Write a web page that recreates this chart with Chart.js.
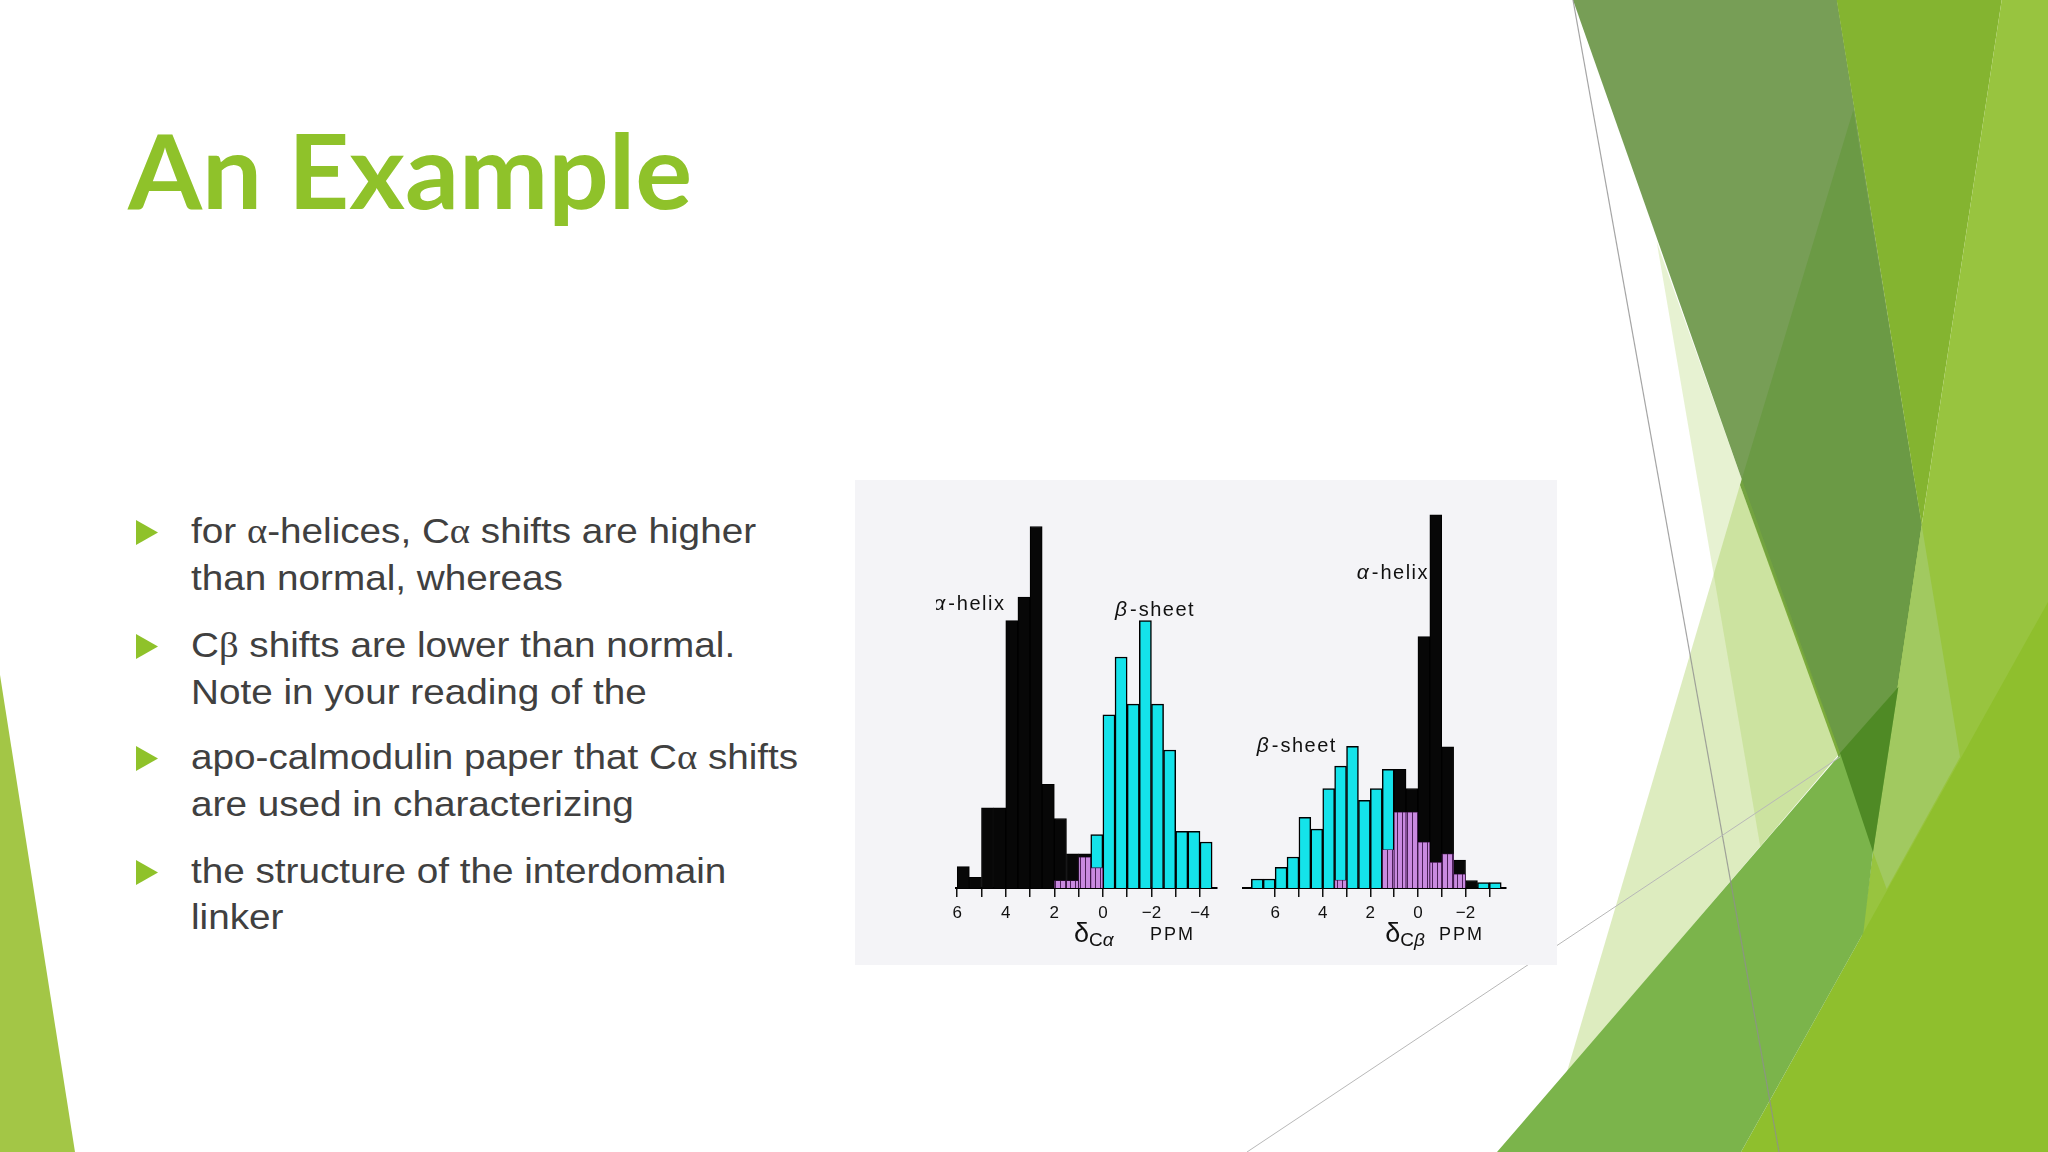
<!DOCTYPE html>
<html>
<head>
<meta charset="utf-8">
<title>An Example</title>
<script src="https://cdn.jsdelivr.net/npm/chart.js@4.4.0/dist/chart.umd.min.js"></script>
<style>
  html, body { margin: 0; padding: 0; }
  body {
    width: 2048px; height: 1152px; position: relative; overflow: hidden;
    background: #ffffff; font-family: "Liberation Sans", Arial, sans-serif;
  }
  #deco { position: absolute; left: 0; top: 0; }
  h1 {
    position: absolute; left: 128px; top: 118px; margin: 0;
    font: 700 103px/103px Lato, "Open Sans", sans-serif; color: #8fc22a;
    white-space: nowrap; transform: scaleX(1.035); transform-origin: 0 0;
  }
  .para {
    position: absolute; left: 191px; margin: 0;
    font-size: 35px; line-height: 46px; color: #404040; white-space: nowrap;
    transform: scaleX(1.105); transform-origin: 0 0;
  }
  .gr { font-family: "Liberation Serif", "DejaVu Serif", serif; }
  .tri {
    position: absolute; left: 136px; width: 22px; height: 25px; background: #8fc22a;
    clip-path: polygon(0 0, 100% 50%, 0 100%);
  }
  #figure {
    position: absolute; left: 855px; top: 480px; width: 702px; height: 485px;
    background: #f4f4f7;
  }
  .panel { position: absolute; top: 483px; height: 476px; }
  #panelA { left: 936px; width: 301px; }
  #panelB { left: 1223px; width: 303px; }
</style>
</head>
<body>

<svg id="deco" width="2048" height="1152" viewBox="0 0 2048 1152">
  <polygon points="1573,0 1837,0 1921.7,525 1873,852" fill="#779e56"/>
  <polygon points="1853.3,110 1921.7,525 1873,852 1740,485" fill="#6b9a45"/>
  <polygon points="1836.7,0 2001.7,0 1921.7,525" fill="#84b430"/>
  <polygon points="2001.7,0 2048,0 2048,1152 1833,1152 1873,852 1921.7,525" fill="#98c43f"/>
  <polygon points="1921.7,525 1960,757 1886.7,889 1873,852" fill="#a1c960"/>
  <polygon points="2048,602 2048,1152 1741,1152" fill="#8fbf2d"/>
  <polygon points="1656.7,242 1840,753 1760.3,846.7" fill="rgb(145,195,50)" fill-opacity="0.22"/>
  <polygon points="1740,485 1840,753 1566.7,1072.7" fill="rgb(145,195,50)" fill-opacity="0.31"/>
  <polygon points="1497,1152 1898.3,687 1873,852 1863.3,933 1741,1152" fill="#7bb44b"/>
  <polygon points="1840,753 1898.3,687 1873,852" fill="#4f8a25"/>
  <line x1="1573" y1="0" x2="1779" y2="1152" stroke="#8f8f8f" stroke-width="1.2" stroke-opacity="0.8"/>
  <line x1="1247" y1="1152" x2="1840" y2="757" stroke="#b8b8b8" stroke-width="1"/>
  <polygon points="0,675 75,1152 0,1152" fill="#a3c646"/>
</svg>

<h1>An Example</h1>

<div class="tri" style="top:520px"></div>
<p class="para" style="top:508px">for <span class="gr">α</span>-helices, C<span class="gr">α</span> shifts are higher<br>than normal, whereas</p>
<div class="tri" style="top:634px"></div>
<p class="para" style="top:622px">C<span class="gr">β</span> shifts are lower than normal.<br>Note in your reading of the</p>
<div class="tri" style="top:746px"></div>
<p class="para" style="top:734px">apo-calmodulin paper that C<span class="gr">α</span> shifts<br>are used in characterizing</p>
<div class="tri" style="top:860px"></div>
<p class="para" style="top:848px">the structure of the interdomain<br>linker</p>

<div id="figure"></div>
<div class="panel" id="panelA"><canvas id="chartA"></canvas></div>
<div class="panel" id="panelB"><canvas id="chartB"></canvas></div>

<script>
// chemical shift deviation histograms (0.5 ppm bins, relative counts)
const caBins  = [5.75, 5.25, 4.75, 4.25, 3.75, 3.25, 2.75, 2.25, 1.75, 1.25, 0.75,
                 0.25, -0.25, -0.75, -1.25, -1.75, -2.25, -2.75, -3.25, -3.75, -4.25];
const caHelix = [2.0, 1.0, 7.5, 7.5, 25.0, 27.2, 33.8, 9.7, 6.5, 3.2, 3.2,
                 null, null, null, null, null, null, null, null, null, null];
const caSheet = [null, null, null, null, null, null, null, null, null, null, null,
                 5.0, 16.2, 21.6, 17.2, 25.0, 17.2, 12.9, 5.3, 5.3, 4.3];
const caCoil  = [null, null, null, null, null, null, null, null, 0.7, 0.7, 2.9,
                 1.9, null, null, null, null, null, null, null, null, null];

const cbBins  = [6.75, 6.25, 5.75, 5.25, 4.75, 4.25, 3.75, 3.25, 2.75, 2.25, 1.75,
                 1.25, 0.75, 0.25, -0.25, -0.75, -1.25, -1.75, -2.25, -2.75, -3.25];
const cbHelix = [null, null, null, null, null, null, null, null, null, null, null,
                 null, 11.1, 9.3, 23.5, 34.9, 13.2, 2.6, 0.7, null, null];
const cbSheet = [0.84, 0.84, 1.94, 2.9, 6.6, 5.5, 9.3, 11.4, 13.25, 8.2, 9.3,
                 11.1, null, null, null, null, null, null, null, 0.5, 0.5];
const cbCoil  = [null, null, null, null, null, null, null, 0.75, null, null, null,
                 3.6, 7.1, 7.1, 4.3, 2.4, 3.2, 1.3, null, null, null];

const caTicks = [6, 5, 4, 3, 2, 1, 0, -1, -2, -3, -4];
const cbTicks = [6, 5, 4, 3, 2, 1, 0, -1, -2, -3];

const toPoints = (bins, vals) =>
  bins.map((b, i) => ({ x: b, y: vals[i] })).filter((p) => p.y !== null);

function stripes() {
  const c = document.createElement("canvas");
  c.width = 5;
  c.height = 4;
  const g = c.getContext("2d");
  g.fillStyle = "#c98ae0";
  g.fillRect(0, 0, 5, 4);
  g.fillStyle = "#4b2058";
  g.fillRect(4, 0, 1, 4);
  return g.createPattern(c, "repeat");
}

// text on the figure: region labels and the axis title
const textPlugin = {
  id: "figText",
  afterDraw(chart, args, opts) {
    const ctx = chart.ctx;
    const x = chart.scales.x;
    const y = chart.scales.y;
    ctx.save();
    ctx.fillStyle = "#111";
    ctx.textBaseline = "alphabetic";
    ctx.textAlign = "left";
    const runs = (list, px, py) => {
      let cx = px;
      list.forEach((r) => {
        ctx.font = r.font;
        ctx.letterSpacing = r.ls || "0px";
        ctx.fillText(r.text, cx, py + (r.dy || 0));
        cx += ctx.measureText(r.text).width + (r.gap || 0);
      });
    };
    opts.labels.forEach((l) => {
      runs([
        { text: l.greek, font: "italic 21px 'Liberation Sans'", gap: 3 },
        { text: "-", font: "20px 'Liberation Sans'", gap: 2 },
        { text: l.word, font: "20px 'Liberation Sans'", ls: "1.5px" },
      ], x.getPixelForValue(l.x), y.getPixelForValue(l.y));
    });
    const bottom = chart.chartArea.bottom;
    runs([
      { text: "δ", font: "27px 'Liberation Sans'", dy: -4, gap: 0 },
      { text: "C", font: "19px 'Liberation Sans'", gap: 0 },
      { text: opts.sub, font: "italic 19px 'Liberation Sans'" },
    ], x.getPixelForValue(opts.deltaAt), bottom + 58);
    runs([{ text: "PPM", font: "18px 'Liberation Sans'", ls: "2px" }],
      x.getPixelForValue(opts.ppmAt), bottom + 52);
    ctx.restore();
  },
};

function makeChart(id, bins, helix, sheet, coil, ticks, xMin, xMax, text) {
  const ctx = document.getElementById(id).getContext("2d");
  return new Chart(ctx, {
    type: "bar",
    data: {
      datasets: [
        {
          label: "coil",
          data: toPoints(bins, coil),
          backgroundColor: stripes(),
          borderColor: "#3a1445",
          borderWidth: 0.8,
          order: 0,
        },
        {
          label: "helix",
          data: toPoints(bins, helix),
          backgroundColor: "#070707",
          borderColor: "#000",
          borderWidth: 1,
          order: 1,
        },
        {
          label: "sheet",
          data: toPoints(bins, sheet),
          backgroundColor: "#14e3ea",
          borderColor: "#000",
          borderWidth: 1.5,
          order: 1,
        },
      ],
    },
    options: {
      responsive: true,
      maintainAspectRatio: false,
      animation: false,
      grouped: false,
      barPercentage: 1,
      categoryPercentage: 1,
      layout: { padding: { left: 20, right: 20, top: 20, bottom: 0 } },
      plugins: {
        legend: { display: false },
        tooltip: { enabled: false },
        figText: text,
      },
      scales: {
        x: {
          type: "linear",
          reverse: true,
          offset: false,
          min: xMin,
          max: xMax,
          afterBuildTicks: (axis) => {
            axis.ticks = ticks.map((v) => ({ value: v }));
          },
          afterFit: (axis) => {
            axis.height = 71;
          },
          ticks: {
            autoSkip: false,
            maxRotation: 0,
            padding: 6,
            color: "#111",
            font: { family: "'Liberation Sans'", size: 17 },
            callback: (v) => (v % 2 === 0 ? (v < 0 ? "\u2212" + -v : String(v)) : ""),
          },
          grid: {
            offset: false,
            drawOnChartArea: false,
            drawTicks: true,
            tickLength: 9,
            color: "#111",
            lineWidth: 1.5,
          },
          border: { display: true, color: "#000", width: 2 },
        },
        y: { display: false, min: 0, max: 36 },
      },
    },
    plugins: [textPlugin],
  });
}

makeChart("chartA", caBins, caHelix, caSheet, caCoil, caTicks, -4.7, 6.05, {
  labels: [
    { greek: "α", word: "helix", x: 6.99, y: 26.0 },
    { greek: "β", word: "sheet", x: -0.5, y: 25.4 },
  ],
  sub: "α",
  deltaAt: 1.19,
  ppmAt: -1.94,
});

makeChart("chartB", cbBins, cbHelix, cbSheet, cbCoil, cbTicks, -3.7, 7.35, {
  labels: [
    { greek: "α", word: "helix", x: 2.57, y: 28.9 },
    { greek: "β", word: "sheet", x: 6.77, y: 12.75 },
  ],
  sub: "β",
  deltaAt: 1.37,
  ppmAt: -0.88,
});
</script>
</body>
</html>
